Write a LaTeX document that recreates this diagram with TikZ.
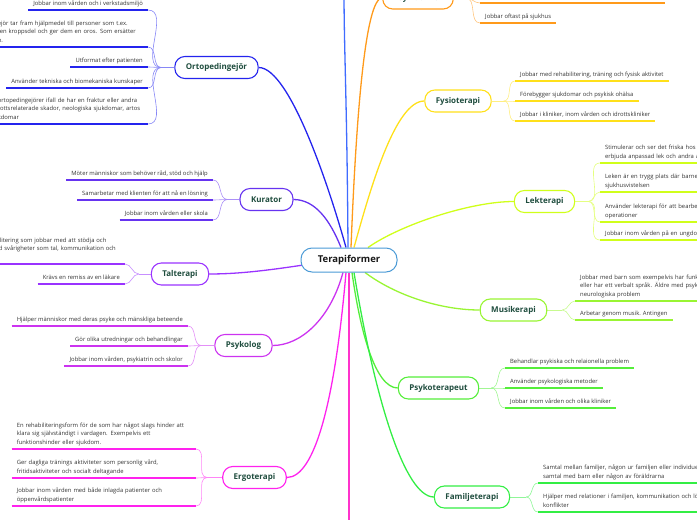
\documentclass[tikz,border=0pt]{standalone}
\usepackage{fontspec}
\setmainfont{Open Sans}
\usetikzlibrary{backgrounds}
\definecolor{titlegreen}{HTML}{1F4D3E}
\definecolor{leafgray}{HTML}{333333}
\definecolor{cCenter}{HTML}{4A9AD6}
\definecolor{cTop}{HTML}{3F6BFF}
\definecolor{cOrto}{HTML}{2424EE}
\definecolor{cKur}{HTML}{6633F0}
\definecolor{cTal}{HTML}{9A33FF}
\definecolor{cPsl}{HTML}{CC33F0}
\definecolor{cErg}{HTML}{FF22EE}
\definecolor{cBot}{HTML}{FF33CC}
\definecolor{cPsk}{HTML}{FF9A1A}
\definecolor{cFys}{HTML}{FFE01A}
\definecolor{cLek}{HTML}{D0FF1A}
\definecolor{cMus}{HTML}{99F533}
\definecolor{cPst}{HTML}{55EE3A}
\definecolor{cFam}{HTML}{33EE44}
\tikzset{
  topic/.style={draw=#1, line width=1.1pt, rounded corners=10pt, fill=white,
    minimum height=22pt, inner xsep=11pt, inner ysep=0pt,
    font=\fontsize{8}{10}\selectfont\bfseries, text=titlegreen},
  leaf/.style={inner xsep=5pt, inner ysep=1.8pt,
    font=\fontsize{5.85}{8.5}\selectfont, text=leafgray, align=left,
    execute at end node=\strut},
  uline/.style={draw=#1, line width=1.3pt},
  twig/.style={draw=#1!55, line width=0.6pt},
  branch/.style={draw=#1, line width=1.3pt},
}
\begin{document}
\begin{tikzpicture}[x=1pt,y=-1pt]
\useasboundingbox (0,0) rectangle (697,520);

% ---------- central and topic nodes ----------
\node[draw=cCenter, line width=1pt, fill=white, rounded corners=11pt,
  minimum width=96pt, minimum height=24pt,
  font=\fontsize{9.5}{11}\selectfont\bfseries, text=black!90] (c) at (349,260) {Terapiformer};

\node[topic=cOrto] (orto) at (216.5,67.5) {Ortopedingejör};
\node[topic=cKur]  (kur)  at (266.5,199.5) {Kurator};
\node[topic=cTal]  (tal)  at (180,274) {Talterapi};
\node[topic=cPsl]  (psl)  at (243.5,345.5) {Psykolog};
\node[topic=cErg]  (erg)  at (254.5,477.5) {Ergoterapi};
\node[topic=cPsk]  (psk)  at (418,-2) {Psykiatriker};
\node[topic=cFys]  (fys)  at (458,101) {Fysioterapi};
\node[topic=cLek]  (lek)  at (544.5,201.5) {Lekterapi};
\node[topic=cMus]  (mus)  at (513.5,310) {Musikerapi};
\node[topic=cPst]  (pst)  at (438.5,388) {Psykoterapeut};
\node[topic=cFam]  (fam)  at (472,497) {Familjeterapi};

\coordinate (topEnd) at (344,-10);
\coordinate (botEnd) at (349,530);

% ---------- leaves: Ortopedingejör ----------
\node[leaf, anchor=south east] (o1) at (148,10) {Jobbar inom vården och i verkstadsmiljö};
\node[leaf, anchor=south east, text width=148pt] (o2) at (148,47) {\hspace*{3pt}ejör tar fram hjälpmedel till personer som t.ex.\\\hspace*{5pt}en kroppsdel och ger dem en oros. Som ersätter\\\hspace*{3pt}n.};
\node[leaf, anchor=south east] (o3) at (148,67) {Utformat efter patienten};
\node[leaf, anchor=south east] (o4) at (148,88) {Använder tekniska och biomekaniska kunskaper};
\node[leaf, anchor=south east, text width=148pt] (o5) at (148,124) {\hspace*{3pt}ortopedingejörer ifall de har en fraktur eller andra\\\hspace*{3pt}rottsrelaterade skador, neologiska sjukdomar, artos\\\hspace*{3pt}kdomar};
% ---------- leaves: Kurator ----------
\node[leaf, anchor=south east] (k1) at (213,180) {Möter människor som behöver råd, stöd och hjälp};
\node[leaf, anchor=south east] (k2) at (213,200) {Samarbetar med klienten för att nå en lösning};
\node[leaf, anchor=south east] (k3) at (213,220) {Jobbar inom vården eller skola};
% ---------- leaves: Talterapi ----------
\node[leaf, anchor=south east, text width=124pt] (t1) at (125,264) {\hspace*{4pt}litering som jobbar med att stödja och\\\hspace*{3pt}d svårigheter som tal, kommunikation och\\\mbox{}};
\node[leaf, anchor=south east] (t2) at (125,284) {Krävs en remiss av en läkare};
% ---------- leaves: Psykolog ----------
\node[leaf, anchor=south east] (p1) at (188,326) {Hjälper människor med deras psyke och mänskliga beteende};
\node[leaf, anchor=south east] (p2) at (188,346) {Gör olika utredningar och behandlingar};
\node[leaf, anchor=south east] (p3) at (188,366) {Jobbar inom vården, psykiatrin och skolor};
% ---------- leaves: Ergoterapi ----------
\node[leaf, anchor=south east, text width=174pt] (e1) at (196,449) {En rehabiliteringsform för de som har något slags hinder att\\klara sig självständigt i vardagen. Exempelvis ett\\funktionshinder eller sjukdom.};
\node[leaf, anchor=south east, text width=174pt] (e2) at (196,478) {Ger dagliga tränings aktiviteter som personlig vård,\\fritidsaktiviteter och socialt deltagande};
\node[leaf, anchor=south east, text width=174pt] (e3) at (196,506) {Jobbar inom vården med både inlagda patienter och\\öppenvårdspatienter};
% ---------- leaves: Psykiatriker ----------
\node[leaf, anchor=south west, minimum width=185pt] (q1) at (480,3) {};
\node[leaf, anchor=south west] (q2) at (480,23) {Jobbar oftast på sjukhus};
% ---------- leaves: Fysioterapi ----------
\node[leaf, anchor=south west] (f1) at (515,81) {Jobbar med rehabilitering, träning och fysisk aktivitet};
\node[leaf, anchor=south west] (f2) at (515,101) {Förebygger sjukdomar och psykisk ohälsa};
\node[leaf, anchor=south west] (f3) at (515,121) {Jobbar i kliniker, inom vården och idrottskliniker};
% ---------- leaves: Lekterapi ----------
\node[leaf, anchor=south west, text width=150pt] (l1) at (600,163) {Stimulerar och ser det friska hos\\erbjuda anpassad lek och andra a};
\node[leaf, anchor=south west, text width=150pt] (l2) at (600,192) {Leken är en trygg plats där barne\\sjukhusvistelsen};
\node[leaf, anchor=south west, text width=150pt] (l3) at (600,222) {Använder lekterapi för att bearbe\\operationer};
\node[leaf, anchor=south west, text width=150pt] (l4) at (600,240) {Jobbar inom vården på en ungdo};
% ---------- leaves: Musikerapi ----------
\node[leaf, anchor=south west, text width=150pt] (m1) at (575,301) {Jobbar med barn som exempelvis har funk\\eller har ett verbalt språk. Äldre med psyki\\neurologiska problem};
\node[leaf, anchor=south west] (m2) at (575,320) {Arbetar genom musik. Antingen};
% ---------- leaves: Psykoterapeut ----------
\node[leaf, anchor=south west] (s1) at (505,368) {Behandlar psykiska och relaionella problem};
\node[leaf, anchor=south west] (s2) at (505,388) {Använder psykologiska metoder};
\node[leaf, anchor=south west] (s3) at (505,408) {Jobbar inom vården och olika kliniker};
% ---------- leaves: Familjeterapi ----------
\node[leaf, anchor=south west, text width=200pt] (g1) at (538,483) {Samtal mellan familjer, någon ur familjen eller individue\\samtal med barn eller någon av föräldrarna};
\node[leaf, anchor=south west, text width=200pt] (g2) at (538,512) {Hjälper med relationer i familjen, kommunikation och lö\\konflikter};

% ---------- junctions ----------
\coordinate (oJ) at ([xshift=-13pt]orto.west);
\coordinate (kJ) at ([xshift=-12pt]kur.west);
\coordinate (tJ) at ([xshift=-12pt]tal.west);
\coordinate (pJ) at ([xshift=-13pt]psl.west);
\coordinate (eJ) at ([xshift=-15pt]erg.west);
\coordinate (qJ) at ([xshift=12pt]psk.east);
\coordinate (fJ) at ([xshift=12pt]fys.east);
\coordinate (lJ) at ([xshift=13pt]lek.east);
\coordinate (mJ) at ([xshift=15pt]mus.east);
\coordinate (sJ) at ([xshift=12pt]pst.east);
\coordinate (gJ) at ([xshift=16pt]fam.east);

\begin{scope}[on background layer]
  % main branches
  \draw[branch=cTop] ([xshift=-1pt]c.north) .. controls (347,100) and (344,50) .. (topEnd);
  \draw[branch=cOrto] ([xshift=-3pt]c.north) .. controls (330,190) and (290,67.5) .. (orto.east);
  \draw[branch=cKur] ([xshift=-8pt]c.north) .. controls (330,220) and (315,199.5) .. (kur.east);
  \draw[branch=cPsk] ([xshift=2pt]c.north) .. controls (356,120) and (365,-2) .. (psk.west);
  \draw[branch=cFys] ([xshift=5pt]c.north) .. controls (370,190) and (395,101) .. (fys.west);
  \draw[branch=cLek] ([xshift=19pt]c.north) .. controls (400,225) and (470,201.5) .. (lek.west);
  \draw[branch=cTal] ([xshift=3pt,yshift=-5pt]c.west) .. controls (270,270) and (240,274) .. (tal.east);
  \draw[branch=cPsl] ([xshift=-6pt]c.south) .. controls (330,320) and (300,345.5) .. (psl.east);
  \draw[branch=cErg] ([xshift=-3pt]c.south) .. controls (335,400) and (315,477.5) .. (erg.east);
  \draw[branch=cBot] (c.south) -- (botEnd);
  \draw[branch=cPst] ([xshift=3pt]c.south) .. controls (360,330) and (375,388) .. (pst.west);
  \draw[branch=cFam] ([xshift=5pt]c.south) .. controls (375,400) and (405,497) .. (fam.west);
  \draw[branch=cMus] ([xshift=16pt]c.south) .. controls (395,295) and (440,310) .. (mus.west);

  % junction stubs
  \draw[twig=cOrto] (orto.west) -- (oJ);
  \draw[twig=cKur] (kur.west) -- (kJ);
  \draw[twig=cTal] (tal.west) -- (tJ);
  \draw[twig=cPsl] (psl.west) -- (pJ);
  \draw[twig=cErg] (erg.west) -- (eJ);
  \draw[twig=cPsk] (psk.east) -- (qJ);
  \draw[twig=cFys] (fys.east) -- (fJ);
  \draw[twig=cLek] (lek.east) -- (lJ);
  \draw[twig=cMus] (mus.east) -- (mJ);
  \draw[twig=cPst] (pst.east) -- (sJ);
  \draw[twig=cFam] (fam.east) -- (gJ);

  % twigs to leaves (left side)
  \foreach \l in {o1,o2,o3,o4,o5} \draw[twig=cOrto] (oJ) to[out=180,in=0] (\l.south east);
  \foreach \l in {k1,k2,k3} \draw[twig=cKur] (kJ) to[out=180,in=0] (\l.south east);
  \foreach \l in {t1,t2} \draw[twig=cTal] (tJ) to[out=180,in=0] (\l.south east);
  \foreach \l in {p1,p2,p3} \draw[twig=cPsl] (pJ) to[out=180,in=0] (\l.south east);
  \foreach \l in {e1,e2,e3} \draw[twig=cErg] (eJ) to[out=180,in=0] (\l.south east);
  % twigs to leaves (right side)
  \foreach \l in {q1,q2} \draw[twig=cPsk] (qJ) to[out=0,in=180] (\l.south west);
  \foreach \l in {f1,f2,f3} \draw[twig=cFys] (fJ) to[out=0,in=180] (\l.south west);
  \foreach \l in {l1,l2,l3,l4} \draw[twig=cLek] (lJ) to[out=0,in=180] (\l.south west);
  \foreach \l in {m1,m2} \draw[twig=cMus] (mJ) to[out=0,in=180] (\l.south west);
  \foreach \l in {s1,s2,s3} \draw[twig=cPst] (sJ) to[out=0,in=180] (\l.south west);
  \foreach \l in {g1,g2} \draw[twig=cFam] (gJ) to[out=0,in=180] (\l.south west);
\end{scope}

% underlines
\foreach \l in {o1,o2,o3,o4,o5} \draw[uline=cOrto] (\l.south west) -- (\l.south east);
\foreach \l in {k1,k2,k3} \draw[uline=cKur] (\l.south west) -- (\l.south east);
\foreach \l in {t1,t2} \draw[uline=cTal] (\l.south west) -- (\l.south east);
\foreach \l in {p1,p2,p3} \draw[uline=cPsl] (\l.south west) -- (\l.south east);
\foreach \l in {e1,e2,e3} \draw[uline=cErg] (\l.south west) -- (\l.south east);
\foreach \l in {q1,q2} \draw[uline=cPsk] (\l.south west) -- (\l.south east);
\foreach \l in {f1,f2,f3} \draw[uline=cFys] (\l.south west) -- (\l.south east);
\foreach \l in {l1,l2,l3,l4} \draw[uline=cLek] (\l.south west) -- (\l.south east);
\foreach \l in {m1,m2} \draw[uline=cMus] (\l.south west) -- (\l.south east);
\foreach \l in {s1,s2,s3} \draw[uline=cPst] (\l.south west) -- (\l.south east);
\foreach \l in {g1,g2} \draw[uline=cFam] (\l.south west) -- (\l.south east);
\end{tikzpicture}
\end{document}
